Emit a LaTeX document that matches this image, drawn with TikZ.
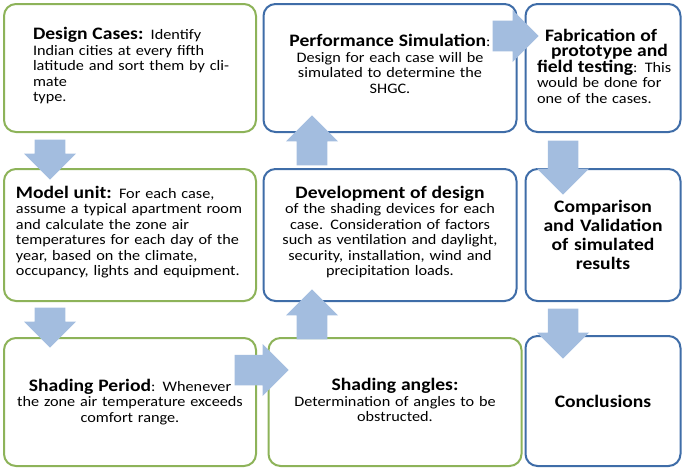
\documentclass[tikz,border=0pt]{standalone}
\usepackage{fontspec}
\setmainfont{Carlito}[FakeStretch=1.12]
\usetikzlibrary{shapes.arrows}
\definecolor{gb}{HTML}{8DB359}
\definecolor{bb}{HTML}{3F6DA8}
\definecolor{ar}{HTML}{A3BDDF}
\begin{document}
\begin{tikzpicture}[x=1pt,y=-1pt,
box/.style={draw=#1,line width=2pt,rounded corners=12pt,fill=white,inner sep=6pt},
bd/.style={font=\fontsize{14.5}{15.5}\selectfont},
ttl/.style={font=\fontsize{17.5}{19}\selectfont\bfseries},
arr/.style={single arrow,fill=ar,draw=none,minimum width=52pt,single arrow head extend=10pt,inner sep=0pt,single arrow head indent=0pt}]
\newcommand\ttx[1]{{\fontsize{17.5}{19}\selectfont\bfseries #1}}
\newcommand\ind[1]{\rule{#1}{0pt}}
\useasboundingbox (0,0) rectangle (685,472);
\node[box=gb,minimum width=252pt,minimum height=128pt] (b1) at (130,68) {};
\node[text width=218pt,align=left,bd,inner sep=0pt] (t1) at (142,66) {\ttx{Design Cases:} Identify\\Indian cities at every fifth\\latitude and sort them by climate\\type.};
\node[box=gb,minimum width=252pt,minimum height=132pt] (b2) at (130,235) {};
\node[text width=232pt,align=left,bd,inner sep=0pt] (t2) at (132,232) {\ttx{Model unit:} For each case,\\assume a typical apartment room\\and calculate the zone air\\temperatures for each day of the\\year, based on the climate,\\occupancy, lights and equipment.};
\node[box=gb,minimum width=252pt,minimum height=128pt] (b3) at (130,402) {};
\node[text width=250pt,align=center,bd] (t3) at (130,402) {\ttx{Shading Period}: Whenever\\the zone air temperature exceeds\\comfort range.};
\node[box=gb,minimum width=253pt,minimum height=128pt] (b4) at (395,402) {};
\node[text width=250pt,align=center,bd] (t4) at (395,400) {\ttx{Shading angles:}\\Determination of angles to be\\obstructed.};
\node[box=bb,minimum width=253pt,minimum height=132pt] (b5) at (390,235) {};
\node[text width=250pt,align=center,bd] (t5) at (390,232) {\ttx{Development of design}\\of the shading devices for each\\case. Consideration of factors\\such as ventilation and daylight,\\security, installation, wind and\\precipitation loads.};
\node[box=bb,minimum width=253pt,minimum height=128pt] (b6) at (390,68) {};
\node[text width=250pt,align=center,bd] (t6) at (390,64) {\ttx{Performance Simulation}:\\Design for each case will be\\simulated to determine the\\SHGC.};
\node[box=bb,minimum width=155pt,minimum height=128pt] (b7) at (603,68) {};
\node[text width=138pt,align=left,bd,inner sep=0pt] (t7) at (606,66) {\ind{8pt}\ttx{Fabrication of}\\\ind{14pt}\ttx{prototype and}\\\ttx{field testing}: This\\would be done for\\one of the cases.};
\node[box=bb,minimum width=155pt,minimum height=132pt] (b8) at (603,235) {};
\node[text width=150pt,align=center,ttl] (t8) at (603,235) {Comparison\\and Validation\\of simulated\\results};
\node[box=bb,minimum width=155pt,minimum height=130pt] (b9) at (603,401) {};
\node[ttl] (t9) at (603,401) {Conclusions};
% arrows
\node[arr,minimum height=40pt,shape border rotate=270,text width=28pt] (a1) at (50,152) {};
\node[arr,minimum height=40pt,shape border rotate=270,text width=28pt] (a2) at (50,320) {};
\node[arr,minimum height=54pt,text height=28pt] (a3) at (254,370) {};
\node[arr,minimum height=50pt,shape border rotate=90,text width=28pt] (a4) at (312,322) {};
\node[arr,minimum height=50pt,shape border rotate=90,text width=28pt] (a5) at (312,148) {};
\node[arr,minimum height=46pt,text height=28pt] (a6) at (508,36) {};
\node[arr,minimum height=54pt,shape border rotate=270,text width=28pt] (a7) at (563,160) {};
\node[arr,minimum height=50pt,shape border rotate=270,text width=28pt] (a8) at (563,326) {};
\end{tikzpicture}
\end{document}
